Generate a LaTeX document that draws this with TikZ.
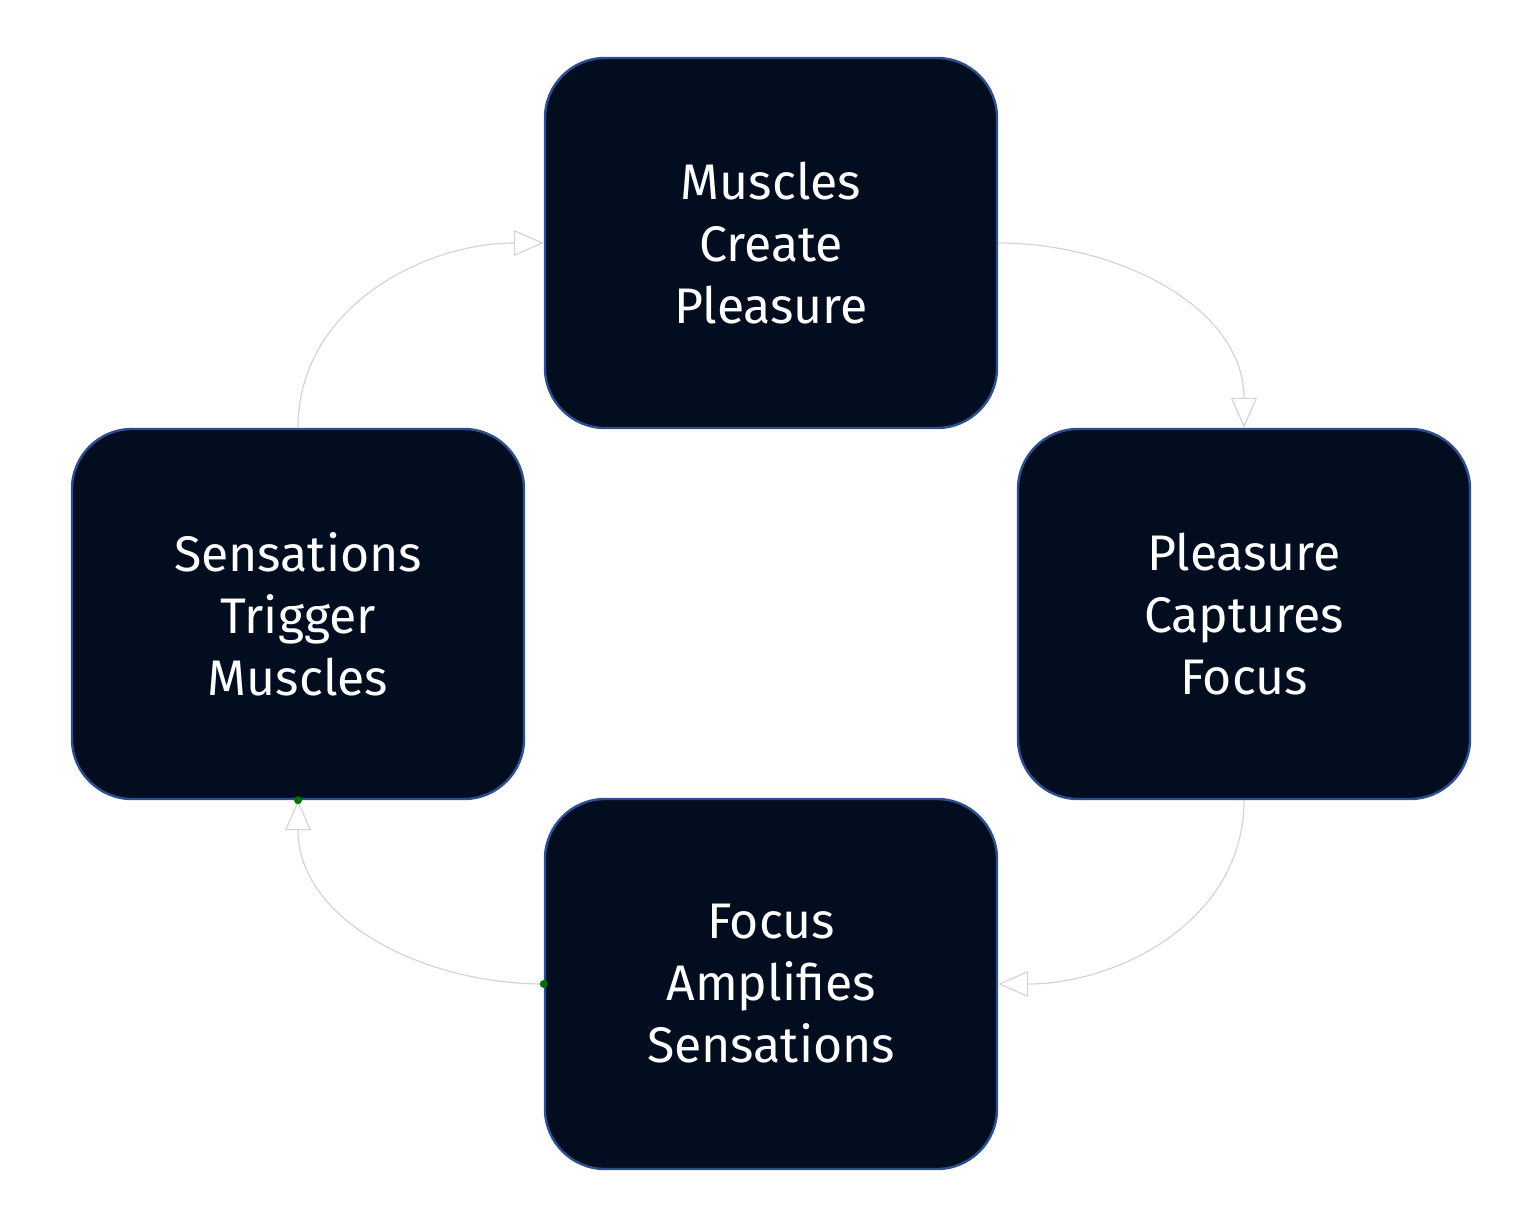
\documentclass[tikz,border=0pt]{standalone}
\usepackage{fontspec}
\setmainfont{Fira Sans}
\usetikzlibrary{arrows.meta}
\definecolor{boxfill}{HTML}{020D20}
\definecolor{boxline}{HTML}{2E4F8F}
\definecolor{conn}{HTML}{D4D4D4}
\begin{document}
\begin{tikzpicture}[x=0.5pt,y=-0.5pt,
  box/.style={draw=boxline,line width=1.2pt,fill=boxfill,rounded corners=30pt,
    minimum width=226pt,minimum height=185pt,text=white,align=center,
    font=\fontsize{25}{31}\selectfont,inner sep=0pt},
  link/.style={draw=conn,line width=0.6pt,-{Triangle[open,length=15pt,width=13pt]}},
  dot/.style={circle,fill=green!45!black,inner sep=0pt,minimum size=4pt}]
\useasboundingbox (0,0) rectangle (1536,1229);
\node[box] (top) at (771,243) {Muscles\\Create\\Pleasure};
\node[box] (right) at (1244,614) {Pleasure\\Captures\\Focus};
\node[box] (bottom) at (771,984) {Focus\\Amplifies\\Sensations};
\node[box] (left) at (298,614) {Sensations\\Trigger\\Muscles};
\draw[link] (top.east) to[out=0,in=90] (right.north);
\draw[link] (right.south) to[out=-90,in=0] (bottom.east);
\draw[link] (bottom.west) to[out=180,in=-90] (left.south);
\draw[link] (left.north) to[out=90,in=180] (top.west);
\node[dot] (d1) at (left.south) {};
\node[dot] (d2) at (bottom.west) {};
\end{tikzpicture}
\end{document}
